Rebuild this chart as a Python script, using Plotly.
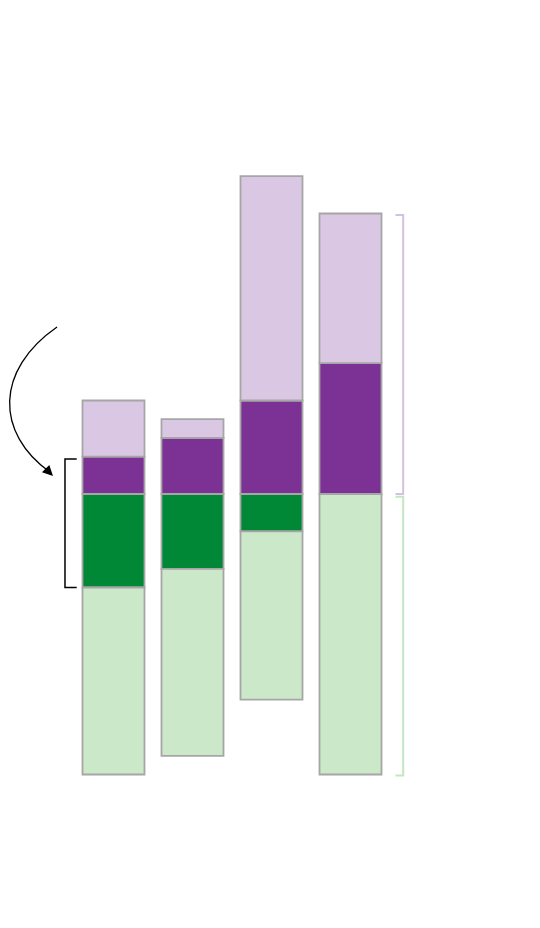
import plotly.graph_objects as go

# values (units of ~18.7 px); green goes below the baseline
groups = [0, 1, 2, 3]
dark_purple = [2, 3, 5, 7]
light_purple = [3, 1, 12, 8]
dark_green = [5, 4, 2, 0]
light_green = [10, 10, 9, 15]

PURPLE_LIGHT = "#d9c7e3"
PURPLE_DARK = "#7b3294"
GREEN_DARK = "#008837"
GREEN_LIGHT = "#cbe9c9"
EDGE = "#a6a6a6"

BAR_W = 0.785
PX_X = 79.0    # px per x unit
PX_Y = 18.7    # px per y unit
X0_PX = 105.5  # first bar centre, in figure px
BASE_PX = 486  # baseline, in figure px

fig = go.Figure()
series = [
    (dark_green, GREEN_DARK, -1),
    (light_green, GREEN_LIGHT, -1),
    (dark_purple, PURPLE_DARK, 1),
    (light_purple, PURPLE_LIGHT, 1),
]
for vals, color, sign in series:
    fig.add_trace(go.Bar(
        x=groups,
        y=[sign * v for v in vals],
        width=BAR_W,
        marker=dict(color=color, line=dict(color=EDGE, width=1.8)),
        hoverinfo="skip",
    ))

# right-hand brackets next to the last bar
last = groups[-1]
bx0 = last + 0.57
bx1 = last + 0.667
top_p = dark_purple[-1] + light_purple[-1] - 0.08
bot_g = -(dark_green[-1] + light_green[-1]) - 0.05


def bracket(x_tick, x_line, y0, y1, color, w=1.5):
    fig.add_shape(type="path",
                  path=f"M {x_tick} {y0} L {x_line} {y0} L {x_line} {y1} L {x_tick} {y1}",
                  line=dict(color=color, width=w))


bracket(bx0, bx1, top_p, 0.0, "#d4c0df", 2)
bracket(bx0, bx1, -0.15, bot_g, "#c4e6c2", 2)

# black bracket on the left of the first bar (dark segments)
bracket(groups[0] - 0.466, groups[0] - 0.614, dark_purple[0] - 0.13, -dark_green[0], "black")

# curved arrow pointing at the bracket
fig.add_shape(type="path",
              path="M -0.715 8.93 C -1.50 6.63, -1.50 3.26, -0.80 1.15",
              line=dict(color="black", width=1.3))
fig.add_annotation(x=-0.766, y=0.963, xref="x", yref="y", text="",
                   showarrow=True, ax=-9, ay=-9, arrowhead=2,
                   arrowsize=1.6, arrowwidth=1.3, arrowcolor="black")

fig.update_layout(
    width=540, height=928,
    barmode="relative",
    showlegend=False,
    paper_bgcolor="white",
    plot_bgcolor="white",
    margin=dict(l=0, r=0, t=0, b=0),
    xaxis=dict(range=[-X0_PX / PX_X, (540 - X0_PX) / PX_X], visible=False),
    yaxis=dict(range=[-(928 - BASE_PX) / PX_Y, BASE_PX / PX_Y], visible=False),
)

fig.write_html("out.html")
